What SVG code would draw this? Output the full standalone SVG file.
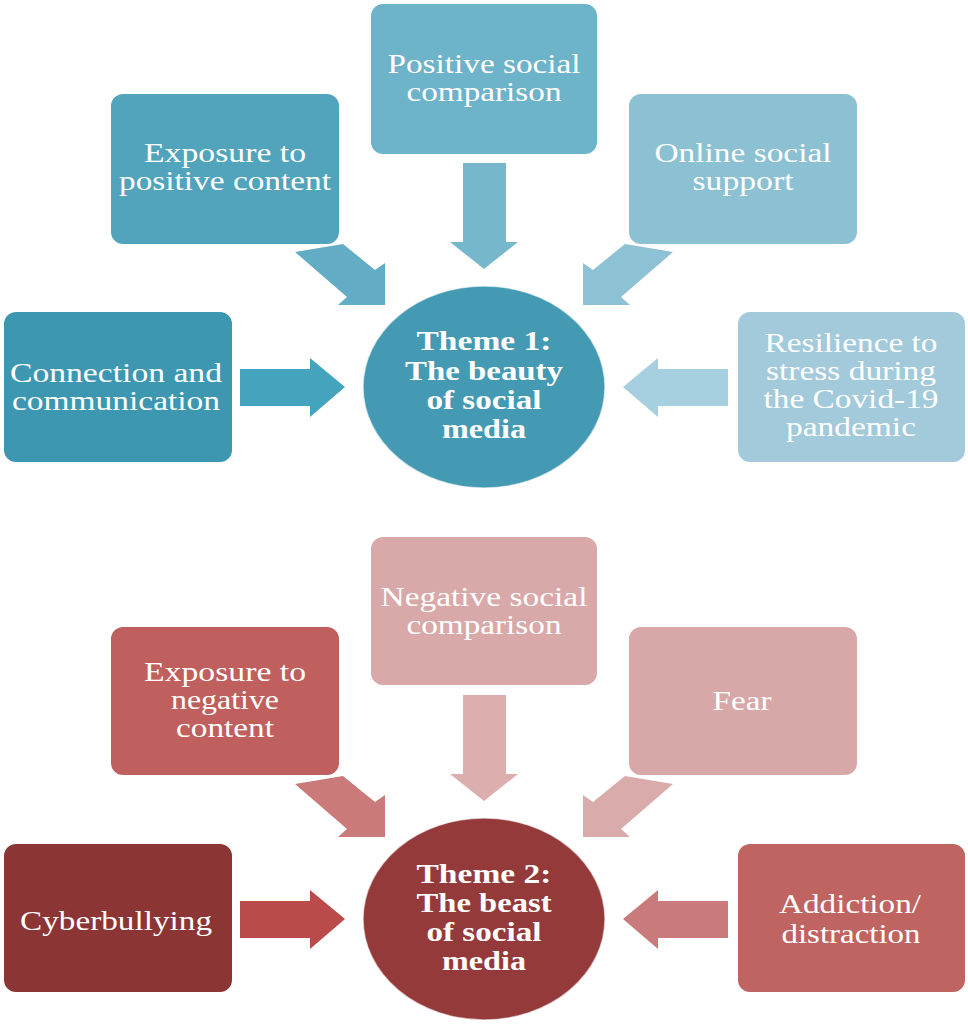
<svg xmlns="http://www.w3.org/2000/svg" width="968" height="1024" viewBox="0 0 968 1024">
<style>
.box{stroke:#ffffff;stroke-width:2}
.ell{stroke:#ffffff;stroke-opacity:0.6;stroke-width:1.5}
.t{font-family:"Liberation Serif","Times New Roman",serif;font-size:28px;fill:#ffffff;text-anchor:middle}
.tb{font-family:"Liberation Serif","Times New Roman",serif;font-size:28px;font-weight:bold;fill:#ffffff;text-anchor:middle}
</style>
<rect width="968" height="1024" fill="#ffffff"/>
<g id="connectors">
  <!-- Theme 1 arrows -->
  <polygon fill="#77b7cc" points="463,163 506,163 506,242 518,242 484,269 450,242 463,242"/>
  <polygon fill="#62adc5" points="295,252 343,244 375,270 385,263 385,305 338,305 347,297"/>
  <polygon fill="#8dc1d4" points="673,252 625,244 593,270 583,263 583,305 630,305 621,297"/>
  <polygon fill="#44a4be" points="240,369 310,369 310,358 345,387 310,417 310,406 240,406"/>
  <polygon fill="#a6cfdf" points="728,369 658,369 658,358 623,387 658,417 658,406 728,406"/>
  <!-- Theme 2 arrows -->
  <polygon fill="#dcaeae" points="463,695 506,695 506,774 518,774 484,801 450,774 463,774"/>
  <polygon fill="#c97a79" points="295,784 343,776 375,802 385,795 385,837 338,837 347,829"/>
  <polygon fill="#daabab" points="673,784 625,776 593,802 583,795 583,837 630,837 621,829"/>
  <polygon fill="#b94c4a" points="240,901 310,901 310,890 345,919 310,949 310,938 240,938"/>
  <polygon fill="#c87b7a" points="728,901 658,901 658,890 623,919 658,949 658,938 728,938"/>
</g>
<g id="pos-comparison">
  <rect class="box" x="370" y="3" width="228" height="152" rx="13" fill="#6db3c9"/>
  <text class="t" x="484" y="73" textLength="193" lengthAdjust="spacingAndGlyphs">Positive social</text>
  <text class="t" x="484" y="101" textLength="155" lengthAdjust="spacingAndGlyphs">comparison</text>
</g>
<g id="pos-content">
  <rect class="box" x="110" y="93" width="230" height="152" rx="13" fill="#52a4bd"/>
  <text class="t" x="225" y="162" textLength="162" lengthAdjust="spacingAndGlyphs">Exposure to</text>
  <text class="t" x="225" y="190" textLength="212" lengthAdjust="spacingAndGlyphs">positive content</text>
</g>
<g id="online-support">
  <rect class="box" x="628" y="93" width="230" height="152" rx="13" fill="#8cc0d3"/>
  <text class="t" x="743" y="162" textLength="177" lengthAdjust="spacingAndGlyphs">Online social</text>
  <text class="t" x="743" y="190" textLength="101" lengthAdjust="spacingAndGlyphs">support</text>
</g>
<g id="connection">
  <rect class="box" x="3" y="311" width="230" height="152" rx="13" fill="#3e97b1"/>
  <text class="t" x="116" y="382" textLength="212" lengthAdjust="spacingAndGlyphs">Connection and</text>
  <text class="t" x="116" y="410" textLength="208" lengthAdjust="spacingAndGlyphs">communication</text>
</g>
<g id="resilience">
  <rect class="box" x="737" y="311" width="229" height="152" rx="13" fill="#a2cadb"/>
  <text class="t" x="851" y="352" textLength="173" lengthAdjust="spacingAndGlyphs">Resilience to</text>
  <text class="t" x="851" y="380" textLength="170" lengthAdjust="spacingAndGlyphs">stress during</text>
  <text class="t" x="851" y="408" textLength="175" lengthAdjust="spacingAndGlyphs">the Covid-19</text>
  <text class="t" x="851" y="436" textLength="130" lengthAdjust="spacingAndGlyphs">pandemic</text>
</g>
<g id="theme1">
  <ellipse class="ell" cx="484" cy="387" rx="121" ry="101" fill="#4499b3"/>
  <text class="tb" x="484" y="350" textLength="135" lengthAdjust="spacingAndGlyphs">Theme 1:</text>
  <text class="tb" x="484" y="380" textLength="158" lengthAdjust="spacingAndGlyphs">The beauty</text>
  <text class="tb" x="484" y="409" textLength="115" lengthAdjust="spacingAndGlyphs">of social</text>
  <text class="tb" x="484" y="438" textLength="84" lengthAdjust="spacingAndGlyphs">media</text>
</g>
<g id="neg-comparison">
  <rect class="box" x="370" y="536" width="228" height="150" rx="13" fill="#d9a9aa"/>
  <text class="t" x="484" y="606" textLength="207" lengthAdjust="spacingAndGlyphs">Negative social</text>
  <text class="t" x="484" y="634" textLength="155" lengthAdjust="spacingAndGlyphs">comparison</text>
</g>
<g id="neg-content">
  <rect class="box" x="110" y="626" width="230" height="150" rx="13" fill="#bf605e"/>
  <text class="t" x="225" y="681" textLength="162" lengthAdjust="spacingAndGlyphs">Exposure to</text>
  <text class="t" x="225" y="709" textLength="108" lengthAdjust="spacingAndGlyphs">negative</text>
  <text class="t" x="225" y="737" textLength="98" lengthAdjust="spacingAndGlyphs">content</text>
</g>
<g id="fear">
  <rect class="box" x="628" y="626" width="230" height="150" rx="13" fill="#d8a7a7"/>
  <text class="t" x="742" y="710" textLength="59" lengthAdjust="spacingAndGlyphs">Fear</text>
</g>
<g id="cyberbullying">
  <rect class="box" x="3" y="843" width="230" height="150" rx="13" fill="#8b3535"/>
  <text class="t" x="116" y="930" textLength="192" lengthAdjust="spacingAndGlyphs">Cyberbullying</text>
</g>
<g id="addiction">
  <rect class="box" x="737" y="843" width="229" height="150" rx="13" fill="#c06462"/>
  <text class="t" x="850" y="913" textLength="142" lengthAdjust="spacingAndGlyphs">Addiction/</text>
  <text class="t" x="851" y="943" textLength="139" lengthAdjust="spacingAndGlyphs">distraction</text>
</g>
<g id="theme2">
  <ellipse class="ell" cx="484" cy="919" rx="121" ry="101" fill="#953a3a"/>
  <text class="tb" x="484" y="883" textLength="135" lengthAdjust="spacingAndGlyphs">Theme 2:</text>
  <text class="tb" x="484" y="912" textLength="135" lengthAdjust="spacingAndGlyphs">The beast</text>
  <text class="tb" x="484" y="941" textLength="115" lengthAdjust="spacingAndGlyphs">of social</text>
  <text class="tb" x="484" y="970" textLength="84" lengthAdjust="spacingAndGlyphs">media</text>
</g>
</svg>
